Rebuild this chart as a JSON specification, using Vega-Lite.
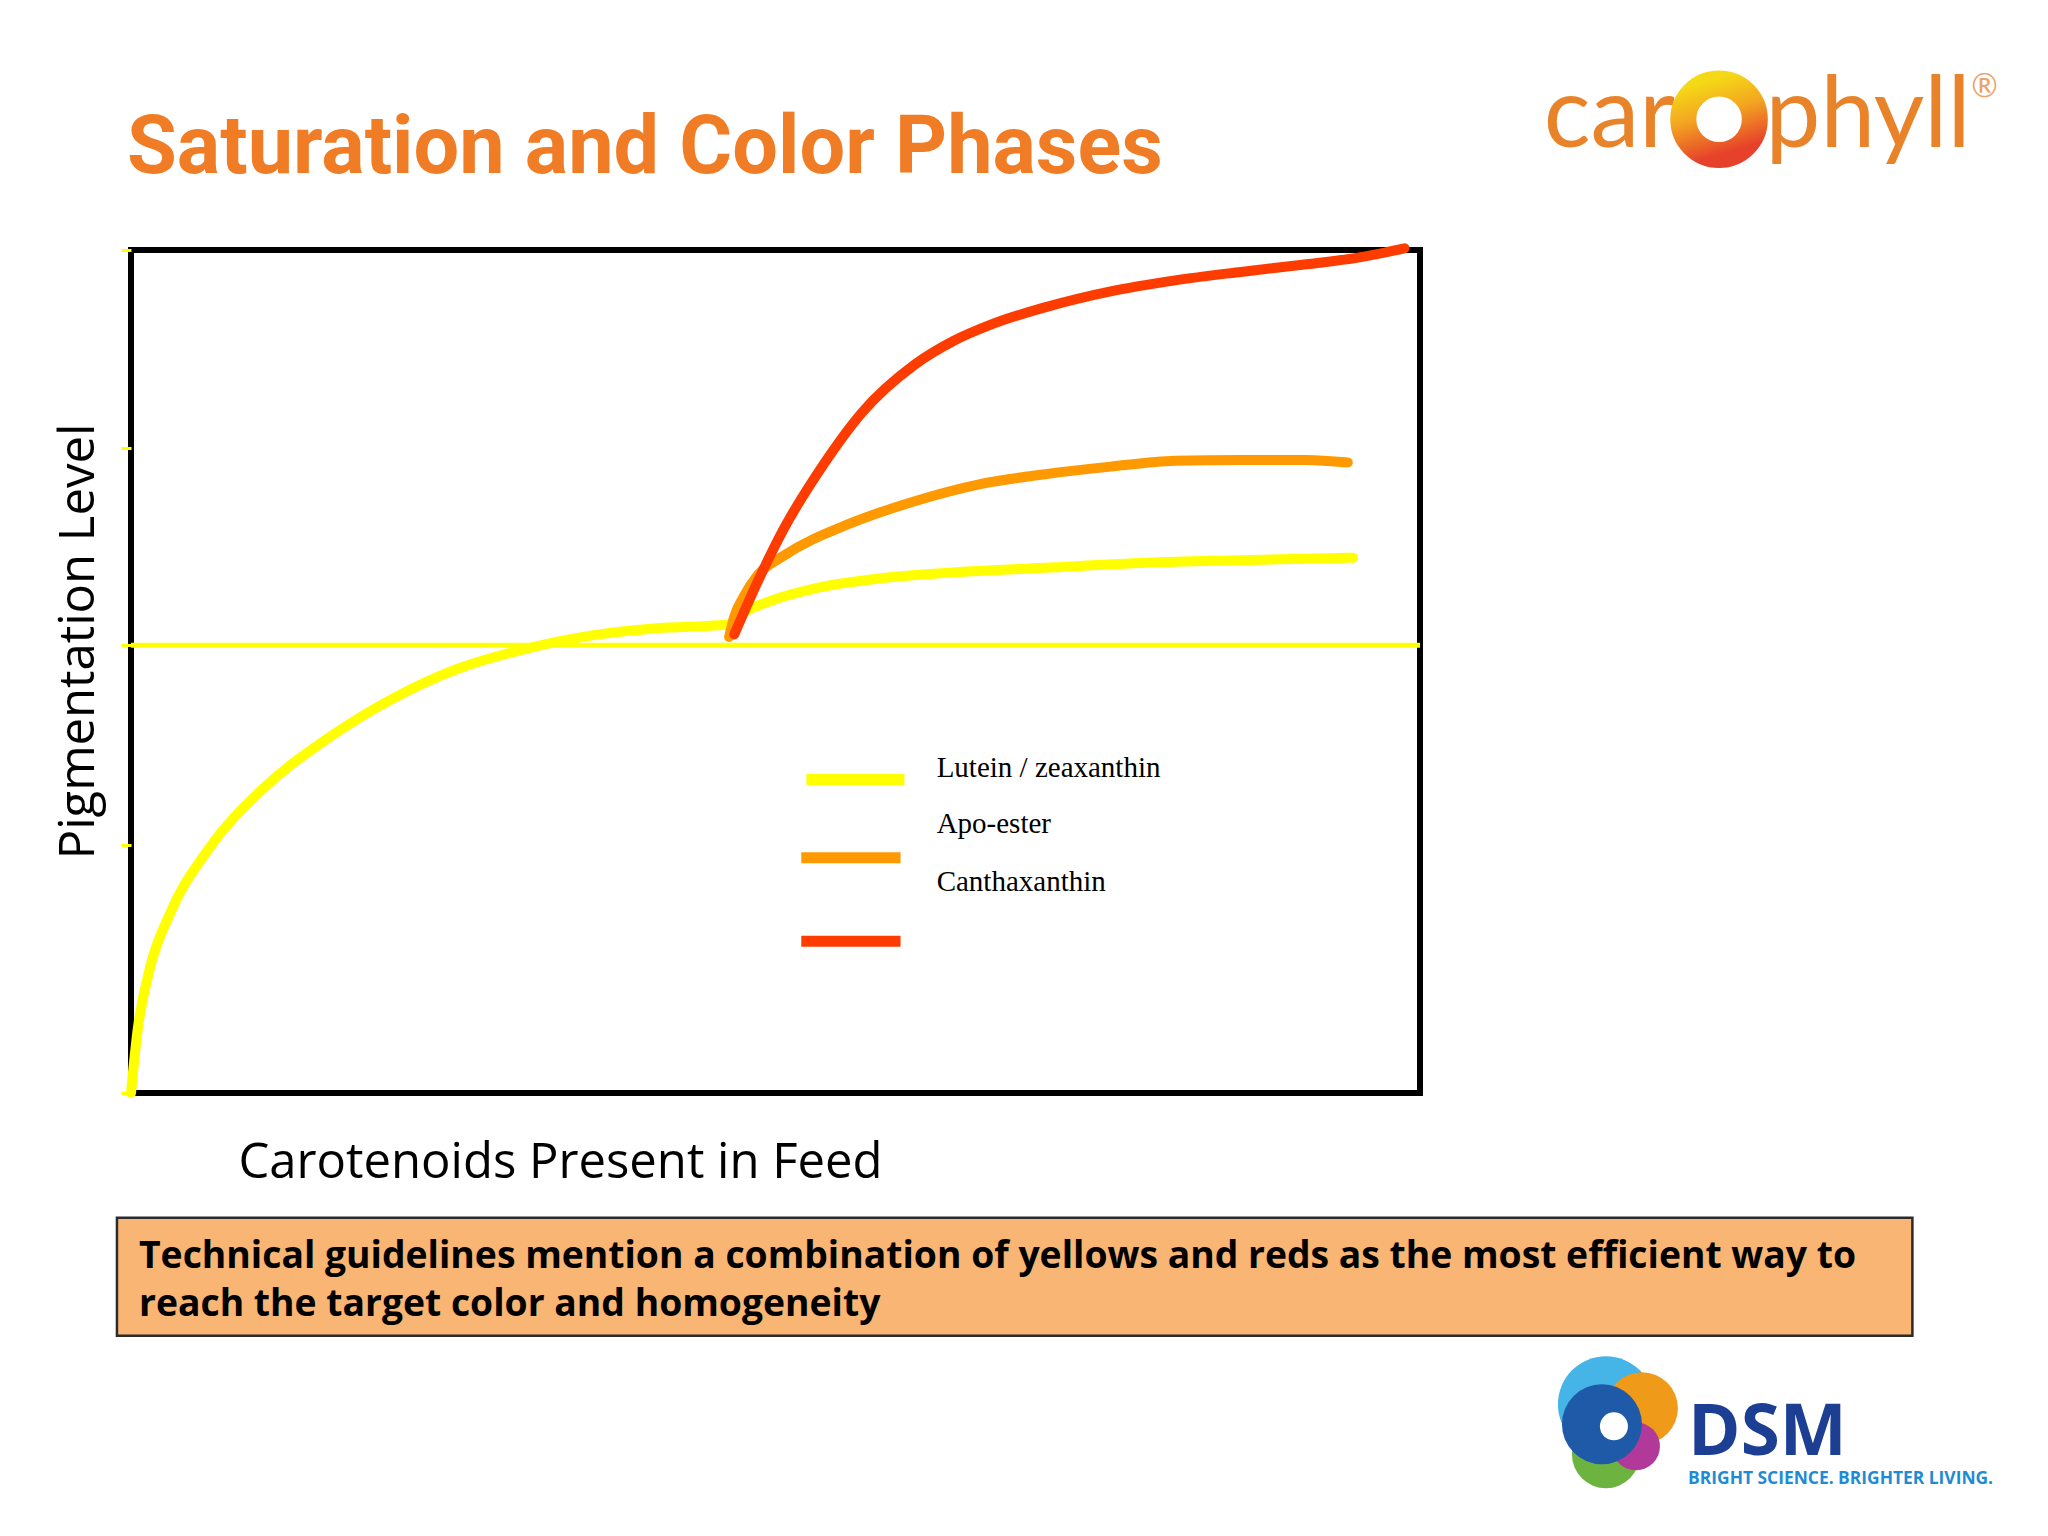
{
  "$schema": "https://vega.github.io/schema/vega-lite/v6.json",
  "width": 1289,
  "height": 843,
  "autosize": {"type": "none"},
  "padding": {"left": 131, "top": 250, "right": 628, "bottom": 443},
  "background": "white",
  "title": {
    "text": "Saturation and Color Phases",
    "anchor": "start",
    "frame": "group",
    "font": "Roboto",
    "fontSize": 81,
    "fontWeight": "bold",
    "color": "#F07D26",
    "baseline": "alphabetic",
    "offset": 0,
    "dy": 222,
    "dx": -4
  },
  "config": {
    "view": {"stroke": "black", "strokeWidth": 6}
  },
  "layer": [
    {
      "data": {"values": [{"level": 53.1}]},
      "mark": {"type": "rule", "color": "#FFFF00", "strokeWidth": 5},
      "encoding": {
        "y": {"field": "level", "type": "quantitative", "scale": {"domain": [0, 100], "nice": false, "zero": false}}
      }
    },
    {
      "data": {
        "values": [
          {"series": "Lutein / zeaxanthin", "x": 0, "y": 0},
          {"series": "Lutein / zeaxanthin", "x": 0.5, "y": 7.3},
          {"series": "Lutein / zeaxanthin", "x": 1.5, "y": 15.0},
          {"series": "Lutein / zeaxanthin", "x": 3.0, "y": 21.2},
          {"series": "Lutein / zeaxanthin", "x": 6.0, "y": 28.9},
          {"series": "Lutein / zeaxanthin", "x": 10.1, "y": 35.9},
          {"series": "Lutein / zeaxanthin", "x": 15.2, "y": 42.0},
          {"series": "Lutein / zeaxanthin", "x": 20.2, "y": 46.7},
          {"series": "Lutein / zeaxanthin", "x": 25.3, "y": 50.3},
          {"series": "Lutein / zeaxanthin", "x": 30.4, "y": 52.6},
          {"series": "Lutein / zeaxanthin", "x": 35.4, "y": 54.2},
          {"series": "Lutein / zeaxanthin", "x": 40.5, "y": 55.1},
          {"series": "Lutein / zeaxanthin", "x": 46.6, "y": 55.6},
          {"series": "Lutein / zeaxanthin", "x": 47.6, "y": 57.0},
          {"series": "Lutein / zeaxanthin", "x": 49.5, "y": 58.3},
          {"series": "Lutein / zeaxanthin", "x": 52.9, "y": 59.8},
          {"series": "Lutein / zeaxanthin", "x": 57.9, "y": 61.0},
          {"series": "Lutein / zeaxanthin", "x": 63.3, "y": 61.7},
          {"series": "Lutein / zeaxanthin", "x": 70.9, "y": 62.3},
          {"series": "Lutein / zeaxanthin", "x": 78.8, "y": 62.9},
          {"series": "Lutein / zeaxanthin", "x": 86.1, "y": 63.2},
          {"series": "Lutein / zeaxanthin", "x": 94.8, "y": 63.5},
          {"series": "Apo-ester", "x": 46.4, "y": 54.1},
          {"series": "Apo-ester", "x": 46.8, "y": 56.5},
          {"series": "Apo-ester", "x": 47.5, "y": 58.8},
          {"series": "Apo-ester", "x": 48.6, "y": 61.4},
          {"series": "Apo-ester", "x": 50.6, "y": 63.7},
          {"series": "Apo-ester", "x": 55.7, "y": 67.5},
          {"series": "Apo-ester", "x": 60.8, "y": 70.2},
          {"series": "Apo-ester", "x": 65.8, "y": 72.2},
          {"series": "Apo-ester", "x": 70.9, "y": 73.4},
          {"series": "Apo-ester", "x": 76.0, "y": 74.3},
          {"series": "Apo-ester", "x": 81.0, "y": 75.0},
          {"series": "Apo-ester", "x": 86.1, "y": 75.1},
          {"series": "Apo-ester", "x": 91.2, "y": 75.1},
          {"series": "Apo-ester", "x": 94.4, "y": 74.8},
          {"series": "Canthaxanthin", "x": 46.8, "y": 54.4},
          {"series": "Canthaxanthin", "x": 48.6, "y": 60.6},
          {"series": "Canthaxanthin", "x": 50.6, "y": 66.8},
          {"series": "Canthaxanthin", "x": 53.7, "y": 74.5},
          {"series": "Canthaxanthin", "x": 56.7, "y": 80.7},
          {"series": "Canthaxanthin", "x": 60.8, "y": 86.4},
          {"series": "Canthaxanthin", "x": 63.8, "y": 89.2},
          {"series": "Canthaxanthin", "x": 66.8, "y": 91.2},
          {"series": "Canthaxanthin", "x": 70.9, "y": 93.2},
          {"series": "Canthaxanthin", "x": 76.0, "y": 95.1},
          {"series": "Canthaxanthin", "x": 81.0, "y": 96.4},
          {"series": "Canthaxanthin", "x": 86.1, "y": 97.4},
          {"series": "Canthaxanthin", "x": 91.2, "y": 98.3},
          {"series": "Canthaxanthin", "x": 95.2, "y": 99.1},
          {"series": "Canthaxanthin", "x": 98.8, "y": 100.2}
        ]
      },
      "mark": {"type": "line", "interpolate": "monotone", "strokeWidth": 10, "strokeCap": "round"},
      "encoding": {
        "x": {
          "field": "x", "type": "quantitative",
          "scale": {"domain": [0, 100], "nice": false, "zero": false},
          "axis": {
            "title": "Carotenoids Present in Feed", "orient": "bottom",
            "labels": false, "ticks": false, "domain": false, "grid": false,
            "titleFont": "Open Sans", "titleFontSize": 49, "titleFontWeight": "normal", "titleColor": "black",
            "titleX": 429, "titleY": 84, "titleAlign": "center", "titleBaseline": "alphabetic"
          }
        },
        "y": {
          "field": "y", "type": "quantitative",
          "scale": {"domain": [0, 100], "nice": false, "zero": false},
          "axis": {
            "title": "Pigmentation Level", "orient": "left",
            "values": [0, 29.4, 53.1, 76.5, 100],
            "labels": false, "domain": false, "grid": false,
            "ticks": true, "tickColor": "#FFFF00", "tickWidth": 3, "tickSize": 10,
            "titleFont": "Open Sans", "titleFontSize": 49, "titleFontWeight": "normal", "titleColor": "black",
            "titleAngle": 270, "titleX": -38, "titleY": 391, "titleAlign": "center", "titleBaseline": "alphabetic"
          }
        },
        "color": {
          "field": "series", "type": "nominal",
          "scale": {"domain": ["Lutein / zeaxanthin", "Apo-ester", "Canthaxanthin"], "range": ["#FFFF00", "#FF9900", "#FF3C00"]},
          "legend": null
        }
      }
    },
    {
      "data": {"values": [{"series": "Lutein / zeaxanthin"}]},
      "mark": {"type": "rule", "strokeWidth": 11},
      "encoding": {
        "x": {"datum": 52.4, "type": "quantitative"},
        "x2": {"datum": 60.0},
        "y": {"datum": 37.2, "type": "quantitative"},
        "color": {"field": "series", "type": "nominal", "legend": null}
      }
    },
    {
      "data": {"values": [{"series": "Apo-ester"}]},
      "mark": {"type": "rule", "strokeWidth": 11},
      "encoding": {
        "x": {"datum": 52.0, "type": "quantitative"},
        "x2": {"datum": 59.7},
        "y": {"datum": 27.9, "type": "quantitative"},
        "color": {"field": "series", "type": "nominal", "legend": null}
      }
    },
    {
      "data": {"values": [{"series": "Canthaxanthin"}]},
      "mark": {"type": "rule", "strokeWidth": 11},
      "encoding": {
        "x": {"datum": 52.0, "type": "quantitative"},
        "x2": {"datum": 59.7},
        "y": {"datum": 18.0, "type": "quantitative"},
        "color": {"field": "series", "type": "nominal", "legend": null}
      }
    },
    {
      "data": {"values": [{"series": "Lutein / zeaxanthin"}]},
      "mark": {"type": "text", "font": "Liberation Serif", "fontSize": 29, "color": "black", "align": "left", "baseline": "alphabetic"},
      "encoding": {
        "x": {"datum": 62.5, "type": "quantitative"},
        "y": {"datum": 37.5, "type": "quantitative"},
        "text": {"field": "series", "type": "nominal"}
      }
    },
    {
      "data": {"values": [{"series": "Apo-ester"}]},
      "mark": {"type": "text", "font": "Liberation Serif", "fontSize": 29, "color": "black", "align": "left", "baseline": "alphabetic"},
      "encoding": {
        "x": {"datum": 62.5, "type": "quantitative"},
        "y": {"datum": 30.8, "type": "quantitative"},
        "text": {"field": "series", "type": "nominal"}
      }
    },
    {
      "data": {"values": [{"series": "Canthaxanthin"}]},
      "mark": {"type": "text", "font": "Liberation Serif", "fontSize": 29, "color": "black", "align": "left", "baseline": "alphabetic"},
      "encoding": {
        "x": {"datum": 62.5, "type": "quantitative"},
        "y": {"datum": 24.0, "type": "quantitative"},
        "text": {"field": "series", "type": "nominal"}
      }
    },
    {
      "data": {"values": [{"note": "Technical guidelines mention a combination of yellows and reds as the most efficient way to\nreach the target color and homogeneity"}]},
      "mark": {"type": "rect", "fill": "#F8B573", "stroke": "#2B2B2B", "strokeWidth": 2.5},
      "encoding": {
        "x": {"datum": -1.09, "type": "quantitative"},
        "x2": {"datum": 138.2},
        "y": {"datum": -14.8, "type": "quantitative"},
        "y2": {"datum": -28.8}
      }
    },
    {
      "data": {"values": [{"note": "Technical guidelines mention a combination of yellows and reds as the most efficient way to\nreach the target color and homogeneity"}]},
      "mark": {"type": "text", "font": "Open Sans", "fontSize": 37.3, "fontWeight": "bold", "color": "black", "align": "left", "baseline": "alphabetic", "lineBreak": "\n", "lineHeight": 48},
      "encoding": {
        "x": {"datum": 0.62, "type": "quantitative"},
        "y": {"datum": -20.8, "type": "quantitative"},
        "text": {"field": "note", "type": "nominal"}
      }
    },
    {
      "data": {"values": [{"t": "car"}]},
      "mark": {"type": "text", "font": "Lato", "fontSize": 98, "color": "#E8832A", "align": "left", "baseline": "alphabetic"},
      "encoding": {
        "x": {"datum": 109.6, "type": "quantitative"},
        "y": {"datum": 112.2, "type": "quantitative"},
        "text": {"field": "t", "type": "nominal"}
      }
    },
    {
      "data": {"values": [{"t": "ring"}]},
      "mark": {
        "type": "point", "shape": "circle", "filled": false, "size": 5112, "strokeWidth": 26, "opacity": 1,
        "stroke": {"gradient": "linear", "x1": 0.2, "y1": 0, "x2": 0.5, "y2": 1,
          "stops": [{"offset": 0, "color": "#F5D916"}, {"offset": 0.45, "color": "#F3A521"}, {"offset": 1, "color": "#E6412B"}]}
      },
      "encoding": {
        "x": {"datum": 123.2, "type": "quantitative"},
        "y": {"datum": 115.5, "type": "quantitative"}
      }
    },
    {
      "data": {"values": [{"t": "phyll"}]},
      "mark": {"type": "text", "font": "Lato", "fontSize": 98, "color": "#E8832A", "align": "left", "baseline": "alphabetic"},
      "encoding": {
        "x": {"datum": 126.8, "type": "quantitative"},
        "y": {"datum": 112.2, "type": "quantitative"},
        "text": {"field": "t", "type": "nominal"}
      }
    },
    {
      "data": {"values": [{"t": "®"}]},
      "mark": {"type": "text", "font": "Lato", "fontSize": 32, "color": "#EBA36B", "align": "center", "baseline": "middle"},
      "encoding": {
        "x": {"datum": 143.8, "type": "quantitative"},
        "y": {"datum": 119.3, "type": "quantitative"},
        "text": {"field": "t", "type": "nominal"}
      }
    },
    {
      "data": {"values": [{"t": "swirl"}]},
      "mark": {"type": "circle", "size": 9216, "color": "#45B4E6", "opacity": 1, "xOffset": -10, "yOffset": -20},
      "encoding": {
        "x": {"datum": 115.2, "type": "quantitative"},
        "y": {"datum": -39.3, "type": "quantitative"}
      }
    },
    {
      "data": {"values": [{"t": "swirl"}]},
      "mark": {"type": "circle", "size": 5184, "color": "#F09A1A", "opacity": 1, "xOffset": 26, "yOffset": -16},
      "encoding": {
        "x": {"datum": 115.2, "type": "quantitative"},
        "y": {"datum": -39.3, "type": "quantitative"}
      }
    },
    {
      "data": {"values": [{"t": "swirl"}]},
      "mark": {"type": "circle", "size": 4624, "color": "#6DB33F", "opacity": 1, "xOffset": -10, "yOffset": 30},
      "encoding": {
        "x": {"datum": 115.2, "type": "quantitative"},
        "y": {"datum": -39.3, "type": "quantitative"}
      }
    },
    {
      "data": {"values": [{"t": "swirl"}]},
      "mark": {"type": "circle", "size": 2304, "color": "#B0399A", "opacity": 1, "xOffset": 20, "yOffset": 22},
      "encoding": {
        "x": {"datum": 115.2, "type": "quantitative"},
        "y": {"datum": -39.3, "type": "quantitative"}
      }
    },
    {
      "data": {"values": [{"t": "swirl"}]},
      "mark": {"type": "circle", "size": 6400, "color": "#1E5AA8", "opacity": 1, "xOffset": -14, "yOffset": 0},
      "encoding": {
        "x": {"datum": 115.2, "type": "quantitative"},
        "y": {"datum": -39.3, "type": "quantitative"}
      }
    },
    {
      "data": {"values": [{"t": "swirl"}]},
      "mark": {"type": "circle", "size": 784, "color": "white", "opacity": 1, "xOffset": -2, "yOffset": 2},
      "encoding": {
        "x": {"datum": 115.2, "type": "quantitative"},
        "y": {"datum": -39.3, "type": "quantitative"}
      }
    },
    {
      "data": {"values": [{"t": "DSM"}]},
      "mark": {"type": "text", "font": "Open Sans", "fontSize": 71, "fontWeight": "bold", "color": "#1C3F94", "align": "left", "baseline": "alphabetic"},
      "encoding": {
        "x": {"datum": 120.8, "type": "quantitative"},
        "y": {"datum": -42.9, "type": "quantitative"},
        "text": {"field": "t", "type": "nominal"}
      }
    },
    {
      "data": {"values": [{"t": "BRIGHT SCIENCE. BRIGHTER LIVING."}]},
      "mark": {"type": "text", "font": "Open Sans", "fontSize": 17.4, "fontWeight": "bold", "color": "#1E8BD3", "align": "left", "baseline": "alphabetic"},
      "encoding": {
        "x": {"datum": 120.8, "type": "quantitative"},
        "y": {"datum": -46.4, "type": "quantitative"},
        "text": {"field": "t", "type": "nominal"}
      }
    }
  ]
}
